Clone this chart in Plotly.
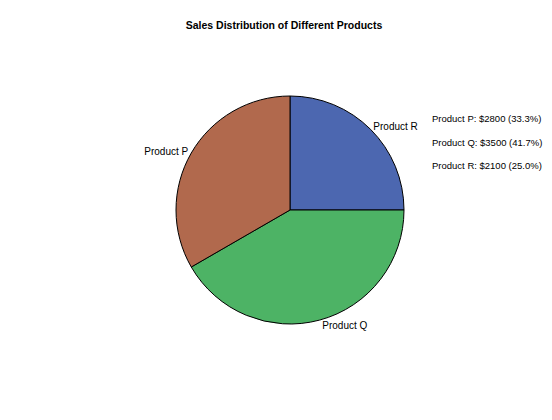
import plotly.graph_objects as go

labels = ["Product R", "Product Q", "Product P"]
values = [2100, 3500, 2800]
colors = ["#4c67b0", "#4db365", "#b1694d"]
legend_labels = ["Product P", "Product Q", "Product R"]
legend_values = [2800, 3500, 2100]

total = sum(values)
W, H = 552, 420
fig = go.Figure(go.Pie(
    labels=labels, values=values, sort=False, direction="clockwise", rotation=0,
    marker=dict(colors=colors, line=dict(color="black", width=1)),
    textinfo="label", textposition="outside", outsidetextfont=dict(color="black", size=10),
    domain=dict(x=[168/W, 396/W], y=[1-316/H, 1-88/H]), showlegend=False,
    hoverinfo="label+value+percent"))

anns = []
for i, (l, v) in enumerate(zip(legend_labels, legend_values)):
    anns.append(dict(x=422/W, y=1-(111+23*i)/H, xref="paper", yref="paper", xanchor="left",
                     yanchor="middle", showarrow=False,
                     text=f"{l}: ${v} ({v/total*100:.1f}%)", font=dict(size=9.5, color="black")))

fig.update_layout(
    width=W, height=H, margin=dict(l=0, r=0, t=0, b=0),
    paper_bgcolor="white", plot_bgcolor="white",
    font=dict(family="Liberation Sans, Arial, sans-serif", size=10, color="black"),
    title=dict(text="<b>Sales Distribution of Different Products</b>", x=0.5, y=1-17/H,
               xanchor="center", yanchor="middle", font=dict(size=10.5)),
    annotations=anns)
fig.write_html("out.html")
